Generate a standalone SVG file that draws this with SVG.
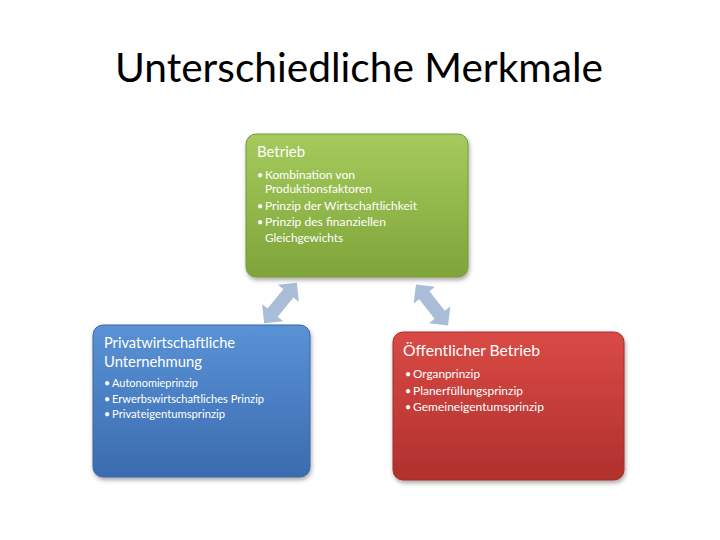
<svg xmlns="http://www.w3.org/2000/svg" width="720" height="540" viewBox="0 0 720 540">
<style>
.title{font-family:Lato,"Liberation Sans",sans-serif;font-size:40px;fill:#000}
.head{font-family:Lato,"Liberation Sans",sans-serif;font-size:14.5px;fill:#fff}
.item{font-family:Lato,"Liberation Sans",sans-serif;font-size:10.5px;fill:#fff}
.arrow{fill:#a9bcd8}
</style>
<defs>
<linearGradient id="gG" x1="0" y1="0" x2="0" y2="1">
<stop offset="0" stop-color="#a6ca5c"/>
<stop offset="1" stop-color="#7ea43a"/>
</linearGradient>
<linearGradient id="gB" x1="0" y1="0" x2="0" y2="1">
<stop offset="0" stop-color="#5a92d6"/>
<stop offset="1" stop-color="#3b6baf"/>
</linearGradient>
<linearGradient id="gR" x1="0" y1="0" x2="0" y2="1">
<stop offset="0" stop-color="#d94a46"/>
<stop offset="1" stop-color="#b0302d"/>
</linearGradient>
<filter id="sh" x="-10%" y="-10%" width="120%" height="125%">
<feDropShadow dx="1" dy="2.5" stdDeviation="2" flood-color="#000" flood-opacity="0.35"/>
</filter>
<polygon id="dbl" points="-26,0 -12.5,-13.5 -12.5,-6.5 12.5,-6.5 12.5,-13.5 26,0 12.5,13.5 12.5,6.5 -12.5,6.5 -12.5,13.5"/>
</defs>
<rect width="720" height="540" fill="#fff"/>
<text class="title" x="115" y="82" textLength="488" lengthAdjust="spacingAndGlyphs">Unterschiedliche Merkmale</text>

<g id="connectors">
<use href="#dbl" class="arrow" transform="translate(280.5,303) rotate(-51)"/>
<use href="#dbl" class="arrow" transform="translate(432,305) rotate(52)"/>
</g>

<g id="betrieb">
<rect x="246" y="134" width="222" height="143" rx="10" fill="url(#gG)" stroke="#77993a" stroke-width="1" filter="url(#sh)"/>
<text class="head" x="257" y="157" textLength="48" lengthAdjust="spacingAndGlyphs">Betrieb</text>
<text class="item" x="257" y="179">•</text>
<text class="item" x="265" y="179" textLength="90" lengthAdjust="spacingAndGlyphs">Kombination von</text>
<text class="item" x="265" y="193" textLength="107" lengthAdjust="spacingAndGlyphs">Produktionsfaktoren</text>
<text class="item" x="257" y="210">•</text>
<text class="item" x="265" y="210" textLength="152" lengthAdjust="spacingAndGlyphs">Prinzip der Wirtschaftlichkeit</text>
<text class="item" x="257" y="226">•</text>
<text class="item" x="265" y="226" textLength="121" lengthAdjust="spacingAndGlyphs">Prinzip des finanziellen</text>
<text class="item" x="265" y="242" textLength="78" lengthAdjust="spacingAndGlyphs">Gleichgewichts</text>
</g>

<g id="privat">
<rect x="93" y="325" width="217" height="152" rx="10" fill="url(#gB)" stroke="#3a66a6" stroke-width="1" filter="url(#sh)"/>
<text class="head" x="104" y="348" textLength="131" lengthAdjust="spacingAndGlyphs">Privatwirtschaftliche</text>
<text class="head" x="104" y="367" textLength="98" lengthAdjust="spacingAndGlyphs">Unternehmung</text>
<text class="item" x="104" y="387">•</text>
<text class="item" x="112" y="387" textLength="86" lengthAdjust="spacingAndGlyphs">Autonomieprinzip</text>
<text class="item" x="104" y="403">•</text>
<text class="item" x="112" y="403" textLength="152" lengthAdjust="spacingAndGlyphs">Erwerbswirtschaftliches Prinzip</text>
<text class="item" x="104" y="418">•</text>
<text class="item" x="112" y="418" textLength="113" lengthAdjust="spacingAndGlyphs">Privateigentumsprinzip</text>
</g>

<g id="oeffentlich">
<rect x="393" y="332" width="231" height="148" rx="10" fill="url(#gR)" stroke="#a32e2b" stroke-width="1" filter="url(#sh)"/>
<text class="head" x="403" y="356" textLength="137" lengthAdjust="spacingAndGlyphs">Öffentlicher Betrieb</text>
<text class="item" x="405" y="378">•</text>
<text class="item" x="413" y="378" textLength="67" lengthAdjust="spacingAndGlyphs">Organprinzip</text>
<text class="item" x="405" y="395">•</text>
<text class="item" x="413" y="395" textLength="110" lengthAdjust="spacingAndGlyphs">Planerfüllungsprinzip</text>
<text class="item" x="405" y="411">•</text>
<text class="item" x="413" y="411" textLength="131" lengthAdjust="spacingAndGlyphs">Gemeineigentumsprinzip</text>
</g>
</svg>
